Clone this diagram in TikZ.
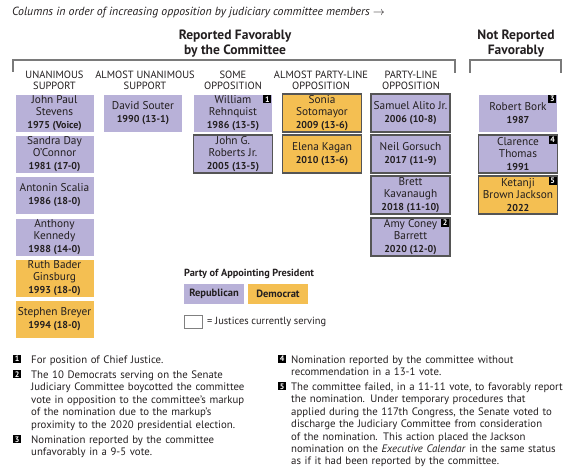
\documentclass[tikz,border=0pt]{standalone}
\usepackage{fontspec}
\setmainfont{PT Sans}
\usetikzlibrary{calc}
\definecolor{rep}{HTML}{B8B1D8}
\definecolor{dem}{HTML}{F4BF52}
\definecolor{ink}{HTML}{231F20}
\definecolor{edgec}{HTML}{555555}
\definecolor{rulec}{HTML}{7A7A7A}
\newcommand\yr[1]{\\{\bfseries\fontsize{10}{12}\selectfont #1}}
\tikzset{
  jbox/.style={minimum width=79pt, minimum height=38pt, inner sep=0pt, align=center,
    text=ink, font=\fontsize{11.3}{12.4}\selectfont, draw=white, line width=0.6pt},
  rbox/.style={jbox, fill=rep},
  dbox/.style={jbox, fill=dem},
  serving/.style={draw=edgec, line width=1.2pt},
  mk/.style={fill=black, text=white, font=\bfseries\fontsize{8}{8}\selectfont,
    minimum size=8pt, inner sep=0pt},
  hdr/.style={align=center, text=ink, font=\fontsize{10.5}{11.2}\selectfont, inner sep=0pt},
  ttl/.style={align=center, text=ink, font=\bfseries\fontsize{13.5}{14.5}\selectfont, inner sep=0pt},
  brk/.style={draw=rulec, line width=1.1pt},
  fn/.style={anchor=base west, text width=284pt, align=left, text=ink, inner sep=0pt,
    font=\fontsize{10.8}{12.4}\selectfont},
  lgbox/.style={minimum width=60pt, minimum height=20pt, inner sep=0pt, text=ink,
    font=\bfseries\fontsize{10.5}{12}\selectfont},
}
\begin{document}
\begin{tikzpicture}[x=1pt,y=-1pt]
\useasboundingbox (0,0) rectangle (576,473);
% top line
\node[anchor=west, inner sep=0pt, text=ink, font=\itshape\fontsize{11.8}{12}\selectfont] (top) at (12,13)
  {Columns in order of increasing opposition by judiciary committee members $\rightarrow$};
% titles
\node[ttl] (t1) at (235,43.5) {Reported Favorably\\by the Committee};
\node[ttl] (t2) at (516,43.5) {Not Reported\\Favorably};
% brackets
\coordinate (b1a) at (13,72); \coordinate (b1b) at (13,60);
\coordinate (b1c) at (455,60); \coordinate (b1d) at (455,73);
\draw[brk] (b1a) -- (b1b) -- (b1c) -- (b1d);
\coordinate (b2a) at (470,73); \coordinate (b2b) at (470,60);
\coordinate (b2c) at (561,60); \coordinate (b2d) at (561,73);
\draw[brk] (b2a) -- (b2b) -- (b2c) -- (b2d);
% headers
\node[hdr] (h1) at (54.5,80) {UNANIMOUS\\SUPPORT};
\node[hdr] (h2) at (145,80) {ALMOST UNANIMOUS\\SUPPORT};
\node[hdr] (h3) at (233,80) {SOME\\OPPOSITION};
\node[hdr] (h4) at (321,80) {ALMOST PARTY-LINE\\OPPOSITION};
\node[hdr] (h5) at (411,80) {PARTY-LINE\\OPPOSITION};
% column 1
\node[rbox] (stevens) at (54.5,113) {John Paul\\Stevens\yr{1975 (Voice)}};
\node[rbox] (oconnor) at (54.5,154) {Sandra Day\\O'Connor\yr{1981 (17-0)}};
\node[rbox] (scalia) at (54.5,195) {Antonin Scalia\yr{1986 (18-0)}};
\node[rbox] (kennedy) at (54.5,237) {Anthony\\Kennedy\yr{1988 (14-0)}};
\node[dbox] (ginsburg) at (54.5,278) {Ruth Bader\\Ginsburg\yr{1993 (18-0)}};
\node[dbox] (breyer) at (54.5,319) {Stephen Breyer\yr{1994 (18-0)}};
% column 2
\node[rbox] (souter) at (143,113) {David Souter\yr{1990 (13-1)}};
% column 3
\node[rbox] (rehnquist) at (233,113) {William\\Rehnquist\yr{1986 (13-5)}};
\node[rbox,serving] (roberts) at (233,154) {John G.\\Roberts Jr.\yr{2005 (13-5)}};
% column 4
\node[dbox,serving] (sotomayor) at (322,113) {Sonia\\Sotomayor\yr{2009 (13-6)}};
\node[dbox,serving] (kagan) at (322,154) {Elena Kagan\yr{2010 (13-6)}};
% column 5
\node[rbox,serving] (alito) at (410.5,113) {Samuel Alito Jr.\yr{2006 (10-8)}};
\node[rbox,serving] (gorsuch) at (410.5,154) {Neil Gorsuch\yr{2017 (11-9)}};
\node[rbox,serving] (kavanaugh) at (410.5,195) {Brett\\Kavanaugh\yr{2018 (11-10)}};
\node[rbox,serving] (barrett) at (410.5,237) {Amy Coney\\Barrett\yr{2020 (12-0)}};
% column 6
\node[rbox] (bork) at (518,113) {Robert Bork\yr{1987}};
\node[rbox,serving] (thomas) at (518,154) {Clarence\\Thomas\yr{1991}};
\node[dbox,serving] (jackson) at (518,195) {Ketanji\\Brown Jackson\yr{2022}};
% markers on boxes
\node[mk] (m1) at ([xshift=-5.5pt,yshift=-5.5pt]rehnquist.north east) {1};
\node[mk] (m2) at ([xshift=-5.5pt,yshift=-5.5pt]barrett.north east) {2};
\node[mk] (m3) at ([xshift=-5.5pt,yshift=-5.5pt]bork.north east) {3};
\node[mk] (m4) at ([xshift=-5.5pt,yshift=-5.5pt]thomas.north east) {4};
\node[mk] (m5) at ([xshift=-5.5pt,yshift=-5.5pt]jackson.north east) {5};
% legend
\node[anchor=west, inner sep=0pt, text=ink, font=\bfseries\fontsize{10.3}{12}\selectfont] (lgt) at (184,274) {Party of Appointing President};
\node[lgbox, fill=rep] (lgr) at (214,294) {Republican};
\node[lgbox, fill=dem] (lgd) at (278,294) {Democrat};
\node[draw=gray, line width=0.9pt, fill=white, minimum width=18pt, minimum height=13pt, inner sep=0pt] (lgw) at (193,321.5) {};
\node[anchor=west, inner sep=0pt, text=ink, font=\fontsize{10.4}{12}\selectfont] (lgwt) at (207,322) {= Justices currently serving};
% footnotes
\node[mk, anchor=south west] (f1m) at (13,363) {1};
\node[fn] (f1) at (31,363) {For position of Chief Justice.};
\node[mk, anchor=south west] (f2m) at (13,378.5) {2};
\node[fn] (f2) at (31,378.5) {The 10 Democrats serving on the Senate\\Judiciary Committee boycotted the committee\\vote in opposition to the committee’s markup\\of the nomination due to the markup’s\\proximity to the 2020 presidential election.};
\node[mk, anchor=south west] (f3m) at (13,443.5) {3};
\node[fn] (f3) at (31,443.5) {Nomination reported by the committee\\unfavorably in a 9-5 vote.};
\node[mk, anchor=south west] (f4m) at (278,363) {4};
\node[fn] (f4) at (291,363) {Nomination reported by the committee without\\recommendation in a 13-1 vote.};
\node[mk, anchor=south west] (f5m) at (278,390.5) {5};
\node[fn] (f5) at (291,390.5) {The committee failed, in a 11-11 vote, to favorably report\\the nomination. Under temporary procedures that\\applied during the 117th Congress, the Senate voted to\\discharge the Judiciary Committee from consideration\\of the nomination. This action placed the Jackson\\nomination on the \textit{Executive Calendar} in the same status\\as if it had been reported by the committee.};
\end{tikzpicture}
\end{document}
